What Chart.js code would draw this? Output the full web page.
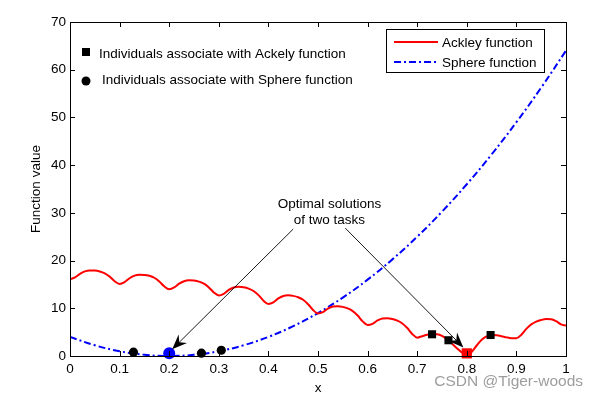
<!DOCTYPE html>
<html><head><meta charset="utf-8">
<script src="https://cdn.jsdelivr.net/npm/chart.js@4"></script>
<style>html,body{margin:0;padding:0;background:#fff}#wrap{width:598px;height:402px;position:relative}</style>
</head><body><div id="wrap"><canvas id="c" width="598" height="402"></canvas></div>
<script>
const ackleyX = [0,0.01,0.02,0.03,0.04,0.05,0.06,0.07,0.08,0.09,0.10,0.11,0.12,0.13,0.14,0.15,0.16,0.17,0.18,0.19,0.20,0.21,0.22,0.23,0.24,0.25,0.26,0.27,0.28,0.29,0.30,0.31,0.32,0.33,0.34,0.35,0.36,0.37,0.38,0.39,0.40,0.41,0.42,0.43,0.44,0.45,0.46,0.47,0.48,0.49,0.50,0.51,0.52,0.53,0.54,0.55,0.56,0.57,0.58,0.59,0.60,0.61,0.62,0.63,0.64,0.65,0.66,0.67,0.68,0.69,0.70,0.71,0.72,0.73,0.74,0.75,0.76,0.77,0.78,0.79,0.80,0.81,0.82,0.83,0.84,0.85,0.86,0.87,0.88,0.89,0.90,0.91,0.92,0.93,0.94,0.95,0.96,0.97,0.98,0.99,1.00];
const ackleyY = [16.1,16.46,17.23,17.74,17.92,17.9,17.72,17.34,16.63,15.66,15.1,
 15.48,16.29,16.84,17.03,17.0,16.81,16.40,15.63,14.60,14.0,
 14.36,15.15,15.68,15.85,15.80,15.59,15.16,14.37,13.32,12.7,
 13.04,13.84,14.35,14.49,14.40,14.13,13.63,12.76,11.60,10.9,
 11.24,12.06,12.58,12.71,12.6,12.31,11.78,10.86,9.64,8.9,
 9.18,9.92,10.37,10.45,10.3,9.97,9.41,8.48,7.26,6.5,
 6.75,7.45,7.88,7.93,7.75,7.40,6.82,5.86,4.63,3.85,
 4.15,4.45,4.6,4.55,4.2,3.5,2.6,1.6,0.75,0,
 0.9,2.2,3.4,4.1,4.4,4.35,4.15,3.9,3.72,3.7,
 4.47,5.68,6.62,7.20,7.55,7.74,7.70,7.30,6.63,6.4];
const sphereX = [0,0.05,0.10,0.15,0.20,0.25,0.30,0.35,0.40,0.45,0.50,0.55,0.60,0.65,0.70,0.75,0.80,0.85,0.90,0.95,1.00];
const sphereY = [4,2.25,1,0.25,0,0.25,1,2.25,4,6.25,9,12.25,16,20.25,25,30.25,36,42.25,49,56.25,64];
const ackIndX = [0.73,0.763,0.848];
const ackIndY = [4.55,3.3,4.4];
const sphIndX = [0.128,0.265,0.305];
const sphIndY = [0.8,0.6,1.2];
const ackOptX = [0.8], ackOptY = [0.55];
const sphOptX = [0.2], sphOptY = [0.6];
const xTicks = [0,0.1,0.2,0.3,0.4,0.5,0.6,0.7,0.8,0.9,1];
const yTicks = [0,10,20,30,40,50,60,70];
const seriesNames = ['Ackley function','Sphere function'];
const markerNames = ['Individuals associate with Ackely function','Individuals associate with Sphere function'];
const noteLines = ['Optimal solutions','of two tasks'];
const noteAt = [0.523, 31.9, 28.5];
const arrowFrom = [[0.45,26.6],[0.555,26.8]];
const arrowTo = [[0.206,1.4],[0.793,1.8]];

const FONT = '"Liberation Sans", Arial, sans-serif';
const zip = (xs, ys) => xs.map((v, i) => ({x: v, y: ys[i]}));

const overlay = {
  id: 'overlay',
  afterDatasetsDraw(chart) {
    const {ctx, scales: {x, y}} = chart;
    ctx.save();
    ctx.fillStyle = '#000';
    ctx.font = '13.5px ' + FONT;
    ctx.textAlign = 'center';
    ctx.textBaseline = 'middle';
    ctx.fillText(noteLines[0], x.getPixelForValue(noteAt[0]), y.getPixelForValue(noteAt[1]));
    ctx.fillText(noteLines[1], x.getPixelForValue(noteAt[0]), y.getPixelForValue(noteAt[2]));
    ctx.strokeStyle = '#000';
    ctx.lineWidth = 0.9;
    arrowFrom.forEach((f, i) => {
      const x0 = x.getPixelForValue(f[0]), y0 = y.getPixelForValue(f[1]);
      const x1 = x.getPixelForValue(arrowTo[i][0]), y1 = y.getPixelForValue(arrowTo[i][1]);
      const ang = Math.atan2(y1 - y0, x1 - x0);
      const L = 15, W = 6, N = 10;
      const ux = Math.cos(ang), uy = Math.sin(ang);
      const bx = x1 - ux * N, by = y1 - uy * N;
      ctx.beginPath(); ctx.moveTo(x0, y0); ctx.lineTo(bx, by); ctx.stroke();
      ctx.beginPath();
      ctx.moveTo(x1, y1);
      ctx.lineTo(x1 - ux * L - uy * W, y1 - uy * L + ux * W);
      ctx.lineTo(bx, by);
      ctx.lineTo(x1 - ux * L + uy * W, y1 - uy * L - ux * W);
      ctx.closePath(); ctx.fill();
    });
    ctx.restore();
  },
  afterDraw(chart) {
    const {ctx, chartArea: a, scales: {x, y}} = chart;
    ctx.save();
    ctx.strokeStyle = '#000';
    ctx.lineWidth = 1;
    ctx.strokeRect(Math.round(a.left) + 0.5, Math.round(a.top) + 0.5, Math.round(a.right - a.left), Math.round(a.bottom - a.top));
    ctx.beginPath();
    xTicks.forEach(v => {
      const px = Math.round(x.getPixelForValue(v)) + 0.5;
      ctx.moveTo(px, a.bottom); ctx.lineTo(px, a.bottom - 5);
      ctx.moveTo(px, a.top); ctx.lineTo(px, a.top + 5);
    });
    yTicks.forEach(v => {
      const py = Math.round(y.getPixelForValue(v)) + 0.5;
      ctx.moveTo(a.left, py); ctx.lineTo(a.left + 5, py);
      ctx.moveTo(a.right, py); ctx.lineTo(a.right - 5, py);
    });
    ctx.stroke();

    // right legend box
    const bx = a.left + 316, by = a.top + 7, bw = 158, bh = 43;
    ctx.fillStyle = '#fff';
    ctx.fillRect(bx, by, bw, bh);
    ctx.strokeRect(bx + 0.5, by + 0.5, bw, bh);
    const ds = chart.data.datasets;
    ctx.font = '13.5px ' + FONT;
    ctx.textAlign = 'left';
    ctx.textBaseline = 'middle';
    [0, 1].forEach(i => {
      const ly = by + 13 + i * 20;
      ctx.strokeStyle = ds[i].borderColor;
      ctx.lineWidth = 2;
      ctx.setLineDash(ds[i].borderDash || []);
      ctx.beginPath(); ctx.moveTo(bx + 8, ly); ctx.lineTo(bx + 52, ly); ctx.stroke();
      ctx.setLineDash([]);
      ctx.fillStyle = '#000';
      ctx.fillText(seriesNames[i], bx + 56, ly + 1);
    });

    // left marker legend
    ctx.fillStyle = '#000';
    ctx.fillRect(a.left + 12, a.top + 26, 8, 8);
    ctx.beginPath(); ctx.arc(a.left + 16, a.top + 59, 4.5, 0, Math.PI * 2); ctx.fill();
    ctx.fillText(markerNames[0], a.left + 29, a.top + 32);
    ctx.fillText(markerNames[1], a.left + 32, a.top + 58);

    // watermark
    ctx.font = '15.5px ' + FONT;
    ctx.textAlign = 'right';
    ctx.fillStyle = 'rgba(140,140,140,0.85)';
    ctx.fillText('CSDN @Tiger-woods', 583, 382);
    ctx.restore();
  }
};

new Chart(document.getElementById('c'), {
  type: 'line',
  data: {
    datasets: [
      {label: seriesNames[0], data: zip(ackleyX, ackleyY), borderColor: '#ff0000', borderWidth: 2, pointRadius: 0, cubicInterpolationMode: 'monotone', order: 5},
      {label: seriesNames[1], data: zip(sphereX, sphereY), borderColor: '#0000ff', borderWidth: 2, borderDash: [7, 3, 2, 3], pointRadius: 0, tension: 0.4, order: 6},
      {label: markerNames[0], data: zip(ackIndX, ackIndY), showLine: false, pointStyle: 'rect', pointRadius: 5.7, backgroundColor: '#000', borderColor: '#000', borderWidth: 0, clip: false, order: 1},
      {label: markerNames[1], data: zip(sphIndX, sphIndY), showLine: false, pointStyle: 'circle', pointRadius: 4.6, backgroundColor: '#000', borderColor: '#000', borderWidth: 0, clip: false, order: 2},
      {label: 'Ackley optimum', data: zip(ackOptX, ackOptY), showLine: false, pointStyle: 'rect', pointRadius: 7.2, backgroundColor: '#ff0000', borderColor: '#ff0000', borderWidth: 0, clip: false, order: 3},
      {label: 'Sphere optimum', data: zip(sphOptX, sphOptY), showLine: false, pointStyle: 'circle', pointRadius: 6, backgroundColor: '#0000ff', borderColor: '#0000ff', borderWidth: 0, clip: false, order: 4}
    ]
  },
  options: {
    responsive: false,
    animation: false,
    devicePixelRatio: 1,
    layout: {padding: {top: 22, right: 32, left: 0, bottom: 0}},
    plugins: {legend: {display: false}, tooltip: {enabled: false}},
    scales: {
      x: {
        type: 'linear', min: 0, max: 1,
        afterFit: s => { s.height = 46; },
        afterBuildTicks: s => { s.ticks = xTicks.map(v => ({value: v})); },
        grid: {drawOnChartArea: false, drawTicks: false},
        border: {display: false},
        ticks: {padding: 5, color: '#000', font: {family: FONT, size: 13.5}, maxRotation: 0, callback: v => String(v)},
        title: {display: true, text: 'x', color: '#000', font: {family: FONT, size: 13.5}, padding: {top: 0, bottom: 6}}
      },
      y: {
        type: 'linear', min: 0, max: 70,
        afterFit: s => { s.width = 70; },
        afterBuildTicks: s => { s.ticks = yTicks.map(v => ({value: v})); },
        grid: {drawOnChartArea: false, drawTicks: false},
        border: {display: false},
        ticks: {padding: 4, color: '#000', font: {family: FONT, size: 13.5}},
        title: {display: true, text: 'Function value', color: '#000', font: {family: FONT, size: 13.5}, padding: {top: 28, bottom: 0}}
      }
    }
  },
  plugins: [overlay]
});
</script></body></html>
